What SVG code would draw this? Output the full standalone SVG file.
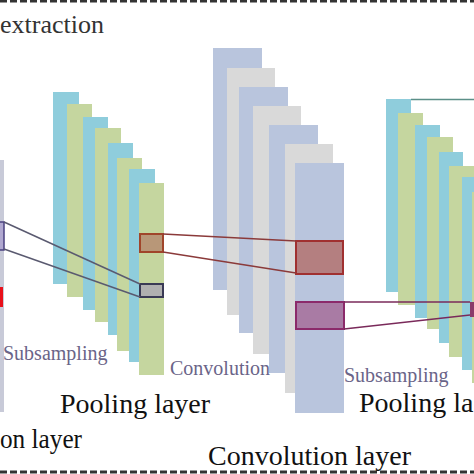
<svg xmlns="http://www.w3.org/2000/svg" width="474" height="474" viewBox="0 0 474 474">
<style>
.bl{fill:#8fcddc}
.gr{fill:#c5d69f}
.cb{fill:#b9c5dd}
.cg{fill:#d9d9d9}
.lab{font-family:"Liberation Serif","Times New Roman",serif;font-size:20px;fill:#6a6488}
.big{font-family:"Liberation Serif","Times New Roman",serif;font-size:28px;fill:#111}
.dash{stroke:#333;stroke-width:3;stroke-dasharray:7 3;fill:none}
</style>
<rect width="474" height="474" fill="#fff"/>
<line class="dash" x1="0" y1="1" x2="474" y2="1"/>
<line class="dash" x1="0" y1="472" x2="474" y2="472"/>
<text x="0" y="33" font-family="Liberation Serif, serif" font-size="26" fill="#333">extraction</text>

<g id="conv-layer-1">
<rect x="-2" y="160" width="6" height="252" fill="#c8cad8"/>
<rect x="-2" y="222" width="6" height="28" fill="#b0a8d0" stroke="#4a4080" stroke-width="1.5"/>
<rect x="-2" y="287" width="5" height="20" fill="#e8101a"/>
</g>

<g id="pooling-layer-1">
<rect class="bl" x="53" y="92" width="26" height="192"/>
<rect class="gr" x="67" y="104" width="25" height="193"/>
<rect class="bl" x="83" y="117" width="25" height="193"/>
<rect class="gr" x="95" y="128" width="26" height="194"/>
<rect class="bl" x="108" y="143" width="25" height="192"/>
<rect class="gr" x="117" y="158" width="25" height="193"/>
<rect class="bl" x="129" y="169" width="26" height="193"/>
<rect class="gr" x="139" y="183" width="25" height="192"/>
<rect x="140" y="234" width="23" height="18" fill="#b89778" stroke="#a0452a" stroke-width="2"/>
<rect x="140" y="284" width="23" height="13" fill="#b0b0b0" stroke="#3a3a55" stroke-width="2"/>
</g>

<g id="conv-layer-2">
<rect class="cb" x="213" y="48" width="49" height="242"/>
<rect class="cg" x="227" y="68" width="48" height="247"/>
<rect class="cb" x="239" y="87" width="49" height="246"/>
<rect class="cg" x="253" y="106" width="48" height="248"/>
<rect class="cb" x="269" y="125" width="49" height="248"/>
<rect class="cg" x="285" y="144" width="48" height="249"/>
<rect class="cb" x="295" y="163" width="49" height="250"/>
<rect x="296" y="241" width="47" height="33" fill="#b47f80" stroke="#a03030" stroke-width="2"/>
<rect x="296" y="302" width="48" height="27" fill="#a97ba4" stroke="#8b2a6a" stroke-width="2"/>
</g>

<g id="pooling-layer-2">
<rect class="bl" x="386" y="99" width="25" height="193"/>
<rect class="gr" x="398" y="113" width="25" height="192"/>
<rect class="bl" x="415" y="125" width="25" height="193"/>
<rect class="gr" x="427" y="137" width="26" height="192"/>
<rect class="bl" x="439" y="152" width="24" height="191"/>
<rect class="gr" x="449" y="166" width="26" height="191"/>
<rect class="bl" x="462" y="177" width="14" height="193"/>
<rect class="gr" x="472" y="192" width="4" height="191"/>
<rect x="470" y="302" width="6" height="15" fill="#8b3a6a"/>
</g>

<g id="connectors" fill="none" stroke-width="1.5">
<line x1="4" y1="222" x2="140" y2="284" stroke="#5a5a70"/>
<line x1="4" y1="249" x2="140" y2="297" stroke="#5a5a70"/>
<line x1="163" y1="234" x2="296" y2="241" stroke="#8b3a3a"/>
<line x1="163" y1="252" x2="296" y2="273" stroke="#8b3a3a"/>
<line x1="344" y1="302" x2="470" y2="302" stroke="#7a2a5a"/>
<line x1="344" y1="329" x2="470" y2="315" stroke="#7a2a5a"/>
<line x1="411" y1="99.5" x2="474" y2="99.5" stroke="#5b8f88"/>
</g>

<g id="labels">
<text class="lab" x="3" y="360">Subsampling</text>
<text class="lab" x="170" y="375">Convolution</text>
<text class="lab" x="344" y="382">Subsampling</text>
<text class="big" x="60" y="413">Pooling layer</text>
<text class="big" x="359" y="412">Pooling la</text>
<text class="big" x="0" y="448" textLength="82" lengthAdjust="spacingAndGlyphs">on layer</text>
<text class="big" x="208" y="465">Convolution layer</text>
</g>
</svg>
